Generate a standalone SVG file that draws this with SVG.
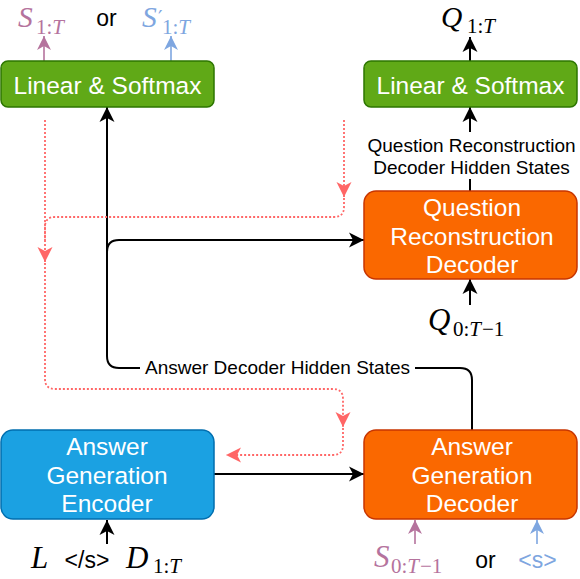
<svg xmlns="http://www.w3.org/2000/svg" width="580" height="579" viewBox="0 0 580 579">
<style>
.box text{font-family:"Liberation Sans",Arial,sans-serif;font-size:24.5px;fill:#ffffff;text-anchor:middle}
.green{fill:#60a917;stroke:#2d7600;stroke-width:1.5}
.orange{fill:#fa6800;stroke:#c73500;stroke-width:1.5}
.blue{fill:#1ba1e2;stroke:#006eaf;stroke-width:1.5}
.lbl{font-family:"Liberation Sans",Arial,sans-serif;font-size:19px;fill:#000000;text-anchor:middle}
.sans{font-family:"Liberation Sans",Arial,sans-serif;font-size:23px}
.math{font-family:"Liberation Serif","Times New Roman",serif;font-size:31px;font-style:italic}
.mtop{font-size:29.5px}
.sub{font-family:"Liberation Serif","Times New Roman",serif;font-size:21px;font-style:normal}
.prime{font-family:"DejaVu Sans",sans-serif;font-size:20px}
.it{font-style:italic}
.blk{fill:none;stroke:#000000;stroke-width:2}
.red{fill:none;stroke:#ff6666;stroke-width:1.8;stroke-dasharray:2 2}
.pk{fill:none;stroke:#b5739d;stroke-width:1.6}
.bl{fill:none;stroke:#7ea6e0;stroke-width:1.6}
</style>
<defs>
<marker id="aBlk" markerUnits="userSpaceOnUse" markerWidth="16" markerHeight="16" viewBox="0 0 16 16" refX="15" refY="8" orient="auto"><path d="M0,0.5 L15,8 L0,15.5 L4,8 Z" fill="#000000"/></marker>
<marker id="aRed" markerUnits="userSpaceOnUse" markerWidth="16" markerHeight="16" viewBox="0 0 16 16" refX="15" refY="8" orient="auto"><path d="M0,0.5 L15,8 L0,15.5 L4,8 Z" fill="#ff6666"/></marker>
<marker id="aPk" markerUnits="userSpaceOnUse" markerWidth="16" markerHeight="16" viewBox="0 0 16 16" refX="14" refY="8" orient="auto"><path d="M0,1 L14,8 L0,15 L4,8 Z" fill="#b5739d"/></marker>
<marker id="aBl" markerUnits="userSpaceOnUse" markerWidth="16" markerHeight="16" viewBox="0 0 16 16" refX="14" refY="8" orient="auto"><path d="M0,1 L14,8 L0,15 L4,8 Z" fill="#7ea6e0"/></marker>
</defs>
<rect width="580" height="579" fill="#ffffff"/>

<g id="connectors">
<path class="blk" d="M472,430 V380 Q472,368 460,368 H119 Q107,368 107,356 V107" marker-end="url(#aBlk)"/>
<path class="blk" d="M107,252 Q107,240 119,240 H364" marker-end="url(#aBlk)"/>
<path class="blk" d="M214,474 H364" marker-end="url(#aBlk)"/>
<path class="blk" d="M470,191 V107" marker-end="url(#aBlk)"/>
<path class="blk" d="M470,61 V37" marker-end="url(#aBlk)"/>
<path class="blk" d="M470,305 V279" marker-end="url(#aBlk)"/>
<path class="blk" d="M107,544 V520" marker-end="url(#aBlk)"/>
<path class="pk" d="M44,61 V36" marker-end="url(#aPk)"/>
<path class="bl" d="M171,61 V36" marker-end="url(#aBl)"/>
<path class="pk" d="M415,544 V520" marker-end="url(#aPk)"/>
<path class="bl" d="M537,544 V520" marker-end="url(#aBl)"/>
<path class="red" d="M45,120 V262" marker-end="url(#aRed)"/>
<path class="red" d="M344,120 V197" marker-end="url(#aRed)"/>
<path class="red" d="M344,190 V207 Q344,217 334,217 H55 Q45,217 45,227 V240"/>
<path class="red" d="M45,255 V379 Q45,389 55,389 H333 Q343,389 343,399 V427" marker-end="url(#aRed)"/>
<path class="red" d="M343,420 V445 Q343,455 333,455 H226" marker-end="url(#aRed)"/>
<g id="label-qr-hidden">
<rect x="366" y="132" width="212" height="47" fill="#ffffff"/>
<text class="lbl" x="471.5" y="152">Question Reconstruction</text>
<text class="lbl" x="471.5" y="174">Decoder Hidden States</text>
</g>
<g id="label-ans-hidden">
<rect x="140" y="355" width="275" height="25" fill="#ffffff"/>
<text class="lbl" x="277.5" y="374">Answer Decoder Hidden States</text>
</g>
</g>

<g id="node-ls-left" class="box">
<rect class="green" x="1" y="61" width="213" height="46" rx="7"/>
<text x="107.5" y="94">Linear &amp; Softmax</text>
</g>
<g id="node-ls-right" class="box">
<rect class="green" x="364" y="61" width="213" height="46" rx="7"/>
<text x="470.5" y="94">Linear &amp; Softmax</text>
</g>
<g id="node-qrd" class="box">
<rect class="orange" x="364" y="191" width="213" height="88" rx="12"/>
<text x="472" y="216">Question</text>
<text x="472" y="245">Reconstruction</text>
<text x="472" y="273">Decoder</text>
</g>
<g id="node-encoder" class="box">
<rect class="blue" x="1" y="430" width="213" height="89" rx="12"/>
<text x="107" y="455">Answer</text>
<text x="107" y="484">Generation</text>
<text x="107" y="512">Encoder</text>
</g>
<g id="node-decoder" class="box">
<rect class="orange" x="364" y="430" width="213" height="89" rx="12"/>
<text x="472" y="455">Answer</text>
<text x="472" y="484">Generation</text>
<text x="472" y="512">Decoder</text>
</g>

<g id="labels">
<text class="math mtop" x="18" y="27" fill="#b5739d">S</text>
<text class="sub" x="36" y="34" fill="#b5739d">1:<tspan class="it">T</tspan></text>
<text class="sans" x="106.5" y="26" text-anchor="middle" font-size="24" fill="#000000">or</text>
<text class="math mtop" x="142" y="27" fill="#7ea6e0">S</text>
<text class="prime" x="158" y="24" fill="#7ea6e0">′</text>
<text class="sub" x="162" y="34" fill="#7ea6e0">1:<tspan class="it">T</tspan></text>

<text class="math mtop" x="441" y="27" fill="#000000">Q</text>
<text class="sub" x="467" y="33" fill="#000000">1:<tspan class="it">T</tspan></text>

<text class="math" x="428" y="330" fill="#000000">Q</text>
<text class="sub" x="453" y="336" fill="#000000">0:<tspan class="it">T</tspan><tspan dx="1">−1</tspan></text>

<text class="math" x="31" y="568" fill="#000000">L</text>
<text class="sans" x="87" y="568" text-anchor="middle" fill="#000000">&lt;/s&gt;</text>
<text class="math" x="126" y="568" fill="#000000">D</text>
<text class="sub" x="153" y="573" fill="#000000">1:<tspan class="it">T</tspan></text>

<text class="math" x="374" y="567" fill="#b5739d">S</text>
<text class="sub" x="391" y="573" fill="#b5739d">0:<tspan class="it">T</tspan><tspan dx="1">−1</tspan></text>
<text class="sans" x="485.5" y="568" text-anchor="middle" font-size="24" fill="#000000">or</text>
<text class="sans" x="537.5" y="568" text-anchor="middle" fill="#7ea6e0">&lt;s&gt;</text>
</g>
</svg>
